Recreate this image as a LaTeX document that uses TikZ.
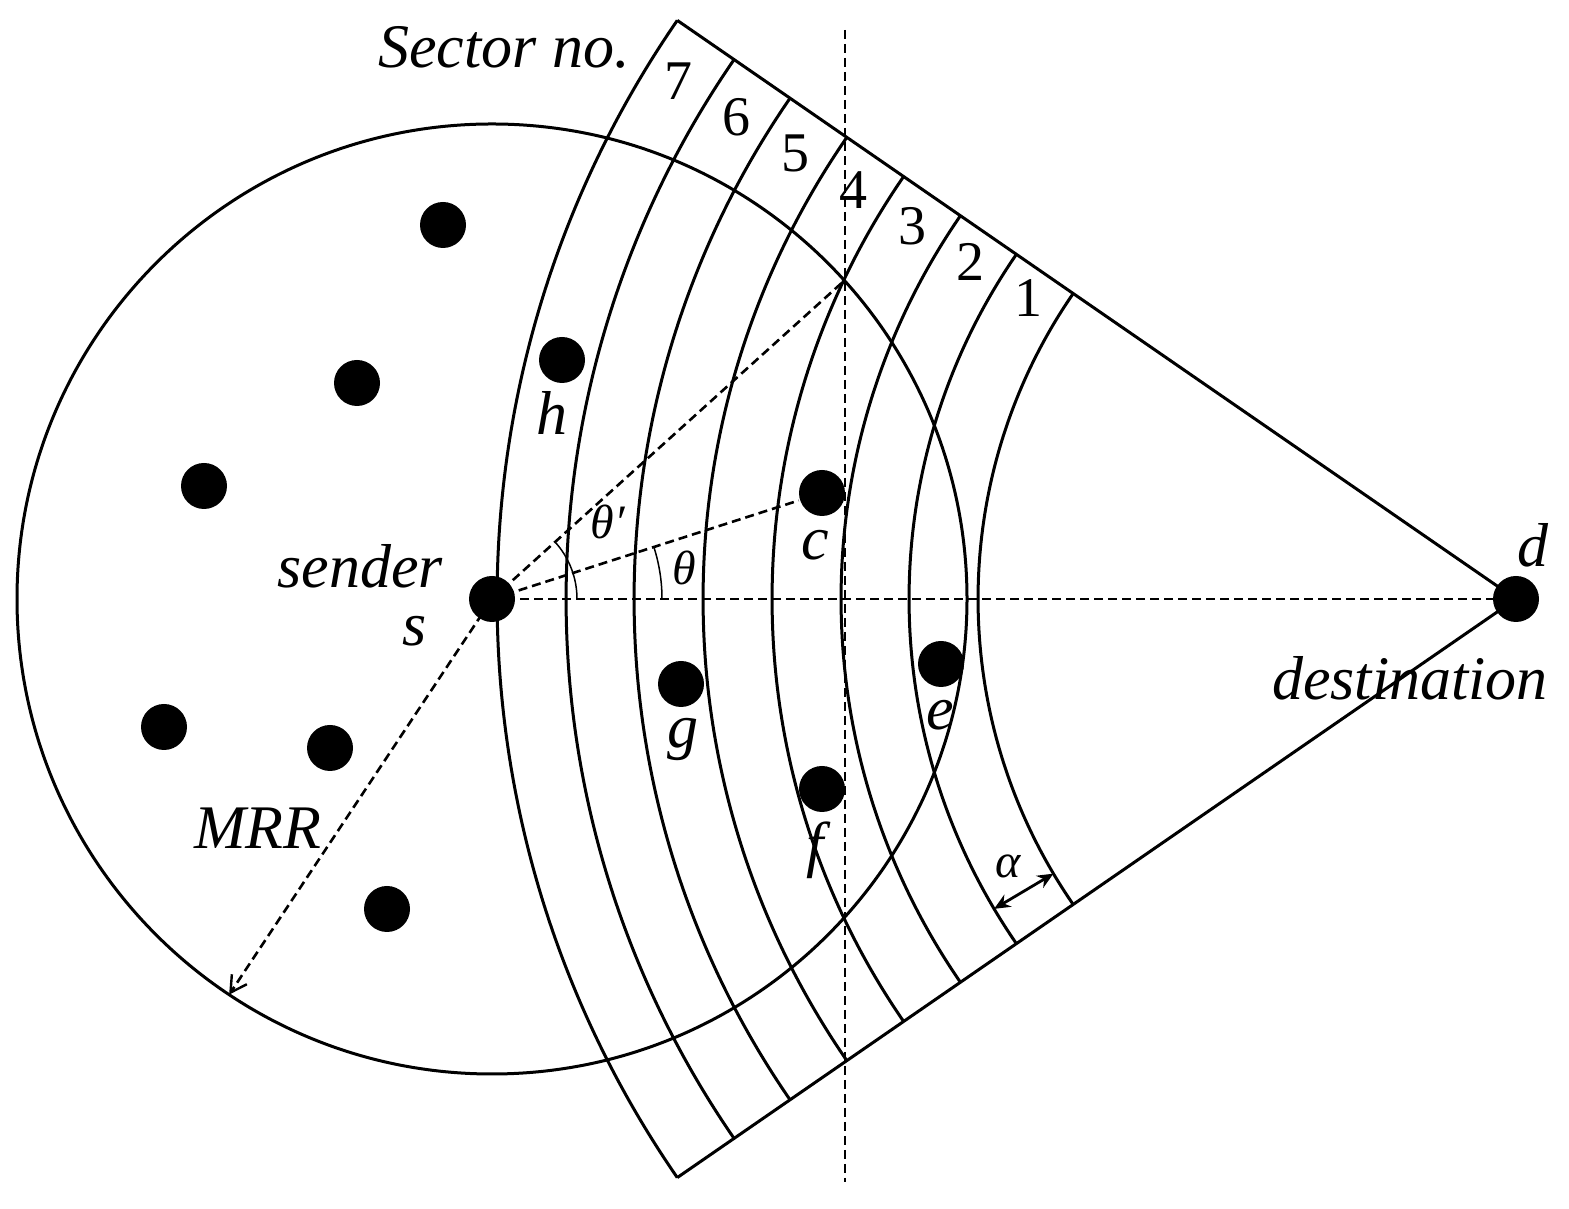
\documentclass[tikz,border=0pt]{standalone}
\usepackage{fontspec}
\setmainfont{Liberation Serif}
\usetikzlibrary{arrows.meta}
\begin{document}
\begin{tikzpicture}[x=1pt,y=1pt,line width=3pt,
  dot/.style={circle,fill=black,inner sep=0pt,minimum size=46pt},
  lab/.style={font=\fontsize{62}{66}\selectfont\itshape,inner sep=0pt},
  sm/.style={font=\fontsize{48}{52}\selectfont\itshape,inner sep=0pt},
  num/.style={font=\fontsize{56}{60}\selectfont,inner sep=0pt},
  dsh/.style={dash pattern=on 9pt off 5pt,line width=2.6pt}]
\useasboundingbox (0,0) rectangle (1569,1209);
\coordinate (s) at (492,610);
\coordinate (d) at (1516,610);
\draw (s) circle[radius=475];
\foreach \r in {538,607,675,744,813,882,950,1019}
  \draw ([shift={(d)}]145.4:\r) arc[start angle=145.4,end angle=214.6,radius=\r];
\coordinate (tl) at ([shift={(d)}]145.4:1019);
\coordinate (bl) at ([shift={(d)}]214.6:1019);
\draw (d) -- (tl);
\draw (d) -- (bl);
\foreach \n [count=\i] in {1,...,7}
  \node[num] (n\n) at ([shift={(d)}]148.3:{572.5+68.7*(\i-1)}) {\n};
\coordinate (vt) at (845,1179);
\coordinate (vb) at (845,27);
\draw[dsh] (vt) -- (vb);
\node[dot] (sd) at (s) {};
\node[dot] (dd) at (d) {};
\node[dot] (p1) at (443,984) {};
\node[dot] (h) at (562,849) {};
\node[dot] (p2) at (357,826) {};
\node[dot] (p3) at (204,723) {};
\node[dot] (c) at (822,716) {};
\node[dot] (p4) at (164,482) {};
\node[dot] (p5) at (330,461) {};
\node[dot] (g) at (681,525) {};
\node[dot] (e) at (941,545) {};
\node[dot] (f) at (822,420) {};
\node[dot] (p6) at (387,300) {};
\coordinate (q) at (845,929);
\draw[dsh] (s) -- (d);
\draw[dsh] (s) -- (c);
\draw[dsh] (s) -- (q);
\coordinate (m) at ([shift={(s)}]236.4:475);
\draw[dsh,{Straight Barb[length=16pt,width=18pt,line width=2.4pt]}-{Straight Barb[length=16pt,width=18pt,line width=2.4pt]}] (s) -- (m);
\draw[line width=1.5pt] ([shift={(s)}]0:170) arc[start angle=0,end angle=17.8,radius=170];
\draw[line width=1.5pt] ([shift={(s)}]0:85) arc[start angle=0,end angle=42.1,radius=85];
\node[sm] (th) at (684,641) {θ};
\node[sm] (thp) at (608,687) {θ′};
\coordinate (a1) at ([shift={(d)}]210.7:538);
\coordinate (a2) at ([shift={(d)}]210.7:607);
\draw[line width=2.8pt,{Stealth[length=16pt,width=14pt]}-{Stealth[length=16pt,width=14pt]}] (a1) -- (a2);
\node[sm] (al) at (1008,343) {α};
\node[lab] (sec) at (504,1162) {Sector no.};
\node[lab] (sen) at (360,643) {sender};
\node[lab] (sl) at (415,578) {s};
\node[lab] (dl) at (1533,664) {d};
\node[lab] (dest) at (1410,531) {destination};
\node[lab] (mrr) at (258,381) {MRR};
\node[lab] (hl) at (552,796) {h};
\node[lab] (cl) at (815,664) {c};
\node[lab] (gl) at (683,469) {g};
\node[lab] (el) at (940,494) {e};
\node[lab] (fl) at (815,359) {f};
\end{tikzpicture}
\end{document}
